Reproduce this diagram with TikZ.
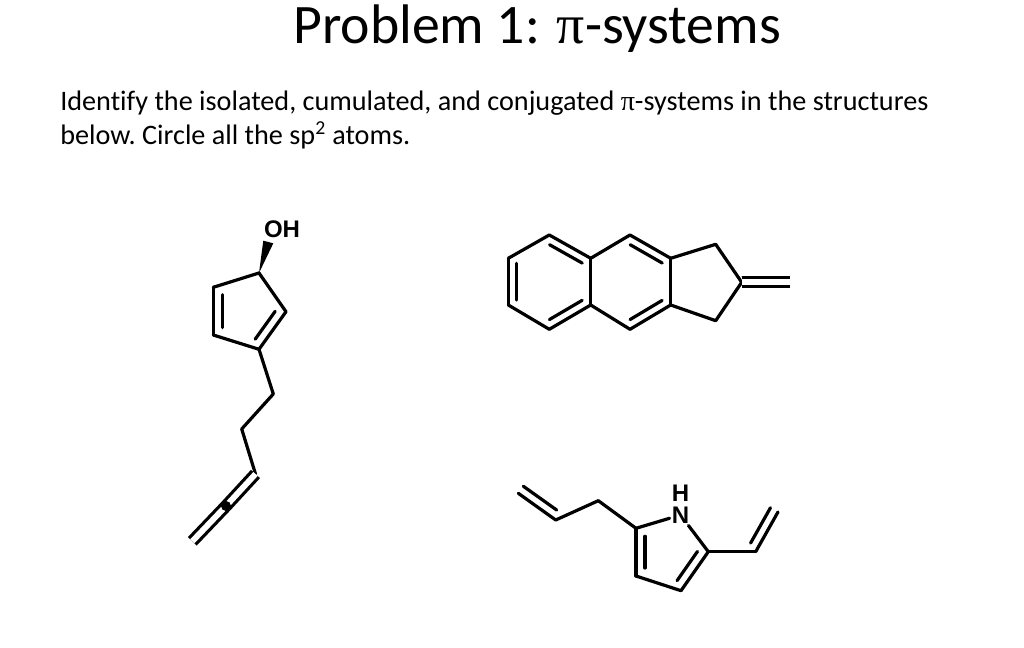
\documentclass[tikz,border=0pt]{standalone}
\usepackage{fontspec}
\setmainfont[Ligatures=NoCommon]{Carlito}
\newfontfamily\atomfont{Liberation Sans}
\newfontfamily\pifont{Liberation Serif}
\usetikzlibrary{calc}
\tikzset{
  bond/.style={line width=2.4pt, line cap=round},
  twinbond/.style={line width=2.4pt, double, double distance=4.4pt},
  atomlabel/.style={font=\atomfont\bfseries\fontsize{18pt}{18pt}\selectfont, inner sep=1.5pt},
  heading/.style={anchor=base west, inner sep=0pt, font=\fontsize{41.8pt}{46pt}\selectfont},
  bodytext/.style={anchor=base west, inner sep=0pt, font=\frenchspacing\fontsize{21.15pt}{25pt}\selectfont}
}
% inner line of a double bond, on the left of #2 -> #3
\newcommand{\innerbond}[4][6.6pt]{\draw[bond, #4] ($(#2)!#1!90:(#3)$) -- ($(#3)!#1!-90:(#2)$);}

\begin{document}
\begin{tikzpicture}[x=0.75pt, y=-0.75pt]
        \useasboundingbox (0,0) rectangle (1024,648);

        \node[heading] (title) at (293,44) {Problem 1: {\pifont π}-systems};
        \node[bodytext] (line1) at (60,111) {Identify the isolated, cumulated, and conjugated {\pifont π}-systems in the structures};
        \node[bodytext] (line2) at (60,144.5) {below. Circle all the sp\textsuperscript{2} atoms.};

        % cyclopentene with allene tail
        \node[atomlabel] (oh) at (282,229) {OH};
        \coordinate (a1) at (259,273);
        \coordinate (a2) at (213.3,287.3);
        \coordinate (a3) at (213.3,335);
        \coordinate (a4) at (259,349.3);
        \coordinate (a5) at (286,311.7);
        \coordinate (a6) at (273.3,394);
        \coordinate (a7) at (241.7,429);
        \coordinate (a8) at (255.5,474);
        \coordinate (a9) at (226,506);
        \coordinate (a10) at (192.3,541.3);
        \coordinate (w1) at (263.3,240.7);
        \coordinate (w2) at (273.3,243.3);
        \fill (a1) -- (w1) -- (w2) -- cycle;
        \foreach \from/\to in {
          a1/a2, a2/a3, a3/a4, a4/a5, a5/a1,
          a4/a6, a6/a7, a7/a8}
        \draw[bond] (\from) -- (\to);
        \innerbond[6.75pt]{a2}{a3}{shorten >=5.5pt, shorten <=5.5pt}
        \innerbond[6.75pt]{a4}{a5}{shorten >=4.5pt, shorten <=4.5pt}
        \draw[twinbond] (a8) -- (a9);
        \draw[twinbond] (a9) -- (a10);
        \node[circle, fill=black, inner sep=0pt, minimum size=7.5pt] (a9dot) at (a9) {};

        % fused rings with exocyclic methylene
        \coordinate (b1) at (549.3,235);
        \coordinate (b2) at (508.3,258.3);
        \coordinate (b3) at (508.3,305);
        \coordinate (b4) at (549.3,329.3);
        \coordinate (b5) at (590.7,305);
        \coordinate (b6) at (590.7,258.3);
        \coordinate (b7) at (630,235);
        \coordinate (b8) at (670.7,258.3);
        \coordinate (b9) at (670.7,305);
        \coordinate (b10) at (630,329.3);
        \coordinate (b11) at (715.7,244.3);
        \coordinate (b12) at (715.7,320.7);
        \coordinate (b13) at (741.7,282.3);
        \coordinate (b14) at (790,282.3);
        \foreach \from/\to in {
          b1/b2, b2/b3, b3/b4, b4/b5, b5/b6, b6/b1,
          b6/b7, b7/b8, b8/b9, b9/b10, b10/b5,
          b8/b11, b11/b13, b13/b12, b12/b9}
        \draw[bond] (\from) -- (\to);
        \foreach \from/\to in {b2/b3, b6/b1, b4/b5, b8/b7, b10/b9}
        \innerbond[6.25pt]{\from}{\to}{shorten >=3.75pt, shorten <=3.75pt}
        \draw[twinbond] (b13) -- (b14);

        % pyrrole with two side chains
        \node[atomlabel] (nh) at (680.5,515) {N};
        \node[atomlabel] (hn) at (680.5,493) {H};
        \coordinate (c1) at (518.3,493.3);
        \coordinate (c2) at (555.7,520);
        \coordinate (c3) at (598.3,500.7);
        \coordinate (c4) at (636,528.3);
        \coordinate (c5) at (636,576);
        \coordinate (c6) at (681,590.7);
        \coordinate (c7) at (708.3,551.7);
        \coordinate (c8) at (755.7,551.7);
        \coordinate (c9) at (778,512);
        \foreach \from/\to in {
          c1/c2, c2/c3, c3/c4, c4/c5, c5/c6, c6/c7,
          c7/c8, c8/c9, c4/nh, nh/c7}
        \draw[bond] (\from) -- (\to);
        \innerbond[6.75pt]{c4}{c5}{shorten >=6pt, shorten <=6pt}
        \innerbond[6.75pt]{c6}{c7}{shorten >=4.5pt, shorten <=4.5pt}
        \innerbond[6.5pt]{c1}{c2}{shorten >=3.75pt}
        \innerbond[6.5pt]{c8}{c9}{shorten <=3.75pt}
      \end{tikzpicture}
\end{document}
